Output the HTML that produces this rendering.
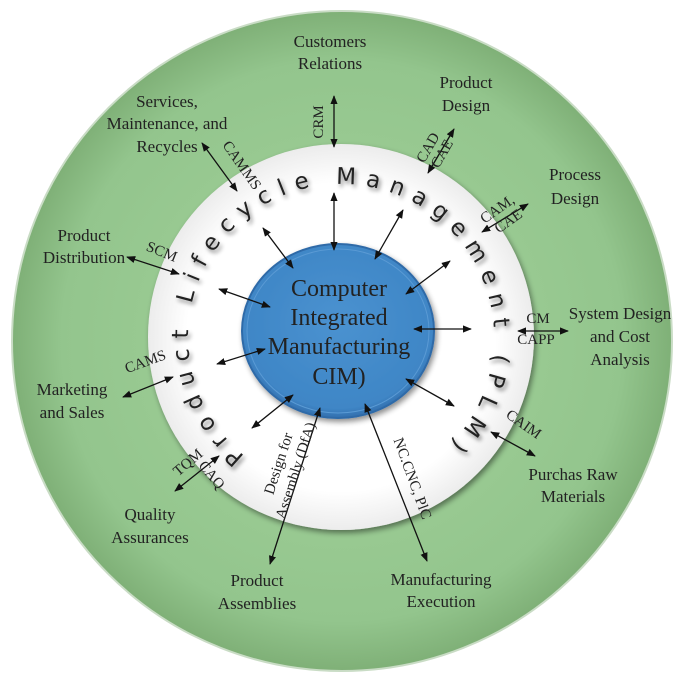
<!DOCTYPE html>
<html><head><meta charset="utf-8"><style>
html,body{margin:0;padding:0;background:#fff;width:685px;height:675px;overflow:hidden}
svg text{font-family:"Liberation Serif",serif;fill:#222}
</style></head><body>
<svg width="685" height="675" viewBox="0 0 685 675" xmlns="http://www.w3.org/2000/svg">
<defs>
<radialGradient id="g" cx="50%" cy="50%" r="50%">
<stop offset="0" stop-color="#a4d39b"/><stop offset="0.85" stop-color="#93c58d"/><stop offset="1" stop-color="#7fb077"/>
</radialGradient>
<radialGradient id="w" cx="50%" cy="50%" r="50%">
<stop offset="0.8" stop-color="#ffffff"/><stop offset="1" stop-color="#ececec"/>
</radialGradient>
<radialGradient id="b" cx="50%" cy="45%" r="55%">
<stop offset="0" stop-color="#4a92d0"/><stop offset="0.9" stop-color="#3f86c6"/><stop offset="1" stop-color="#336fae"/>
</radialGradient>
<filter id="sh" x="-20%" y="-20%" width="140%" height="140%"><feGaussianBlur in="SourceAlpha" stdDeviation="3"/><feOffset dx="2" dy="3"/><feComponentTransfer><feFuncA type="linear" slope="0.45"/></feComponentTransfer><feMerge><feMergeNode/><feMergeNode in="SourceGraphic"/></feMerge></filter>
<filter id="ts"><feGaussianBlur in="SourceAlpha" stdDeviation="2"/><feOffset dx="2" dy="3"/><feComponentTransfer><feFuncA type="linear" slope="0.5"/></feComponentTransfer><feMerge><feMergeNode/><feMergeNode in="SourceGraphic"/></feMerge></filter>
<marker id="a" viewBox="0 0 10 10" refX="9" refY="5" markerWidth="7" markerHeight="7" orient="auto-start-reverse"><path d="M0,1 L10,5 L0,9 z" fill="#111"/></marker>
<path id="arc" d="M244.7,455.9 A153,153 0 1 1 437.3,455.9"/>
</defs>
<circle cx="342" cy="341" r="330" fill="url(#g)" stroke="#c9dcc5" stroke-width="2"/>
<circle cx="341" cy="337" r="193" fill="url(#w)" filter="url(#sh)"/>
<ellipse cx="338" cy="331" rx="96" ry="87" fill="url(#b)" stroke="#2f6aa8" stroke-width="2" filter="url(#sh)"/>
<ellipse cx="338" cy="331" rx="91" ry="82" fill="none" stroke="#5a9ad4" stroke-width="1"/>
<text font-size="23" filter="url(#ts)" style="font-family:'DejaVu Sans','Liberation Sans',sans-serif"><textPath href="#arc" textLength="735" lengthAdjust="spacing">Product Lifecycle Management (PLM)</textPath></text>
<g font-size="24" text-anchor="middle">
<text x="339" y="296">Computer</text><text x="339" y="325">Integrated</text><text x="339" y="354">Manufacturing</text><text x="339" y="384">CIM)</text>
</g>
<g stroke="#111" stroke-width="1.3" marker-start="url(#a)" marker-end="url(#a)">
<line x1="334" y1="193" x2="334" y2="250"/>
<line x1="263" y1="228" x2="293" y2="268"/>
<line x1="403" y1="210" x2="375" y2="259"/>
<line x1="450" y1="261" x2="406" y2="294"/>
<line x1="414" y1="329" x2="471" y2="329"/>
<line x1="406" y1="379" x2="454" y2="406"/>
<line x1="365" y1="404" x2="427" y2="561"/>
<line x1="320" y1="408" x2="270" y2="564"/>
<line x1="293" y1="395" x2="252" y2="428"/>
<line x1="265" y1="349" x2="217" y2="364"/>
<line x1="219" y1="289" x2="270" y2="307"/>
<line x1="334" y1="96" x2="334" y2="147"/>
<line x1="454" y1="129" x2="428" y2="173"/>
<line x1="528" y1="204" x2="482" y2="232"/>
<line x1="518" y1="331" x2="568" y2="331"/>
<line x1="491" y1="432" x2="535" y2="456"/>
<line x1="219" y1="456" x2="175" y2="491"/>
<line x1="173" y1="377" x2="123" y2="397"/>
<line x1="127" y1="257" x2="179" y2="274"/>
<line x1="202" y1="143" x2="237" y2="191"/>
</g>
<g font-size="17" text-anchor="middle">
<text x="330" y="47">Customers</text><text x="330" y="69">Relations</text>
<text x="466" y="88">Product</text><text x="466" y="111">Design</text>
<text x="167" y="107">Services,</text><text x="167" y="129">Maintenance, and</text><text x="167" y="152">Recycles</text>
<text x="575" y="180">Process</text><text x="575" y="204">Design</text>
<text x="84" y="241">Product</text><text x="84" y="263">Distribution</text>
<text x="620" y="319">System Design</text><text x="620" y="342">and Cost</text><text x="620" y="365">Analysis</text>
<text x="72" y="395">Marketing</text><text x="72" y="418">and Sales</text>
<text x="573" y="480">Purchas Raw</text><text x="573" y="502">Materials</text>
<text x="150" y="520">Quality</text><text x="150" y="543">Assurances</text>
<text x="257" y="586">Product</text><text x="257" y="609">Assemblies</text>
<text x="441" y="585">Manufacturing</text><text x="441" y="607">Execution</text>
</g>
<g font-size="15" text-anchor="middle">
<text transform="translate(323,122) rotate(-90)">CRM</text>
<text transform="translate(432,150) rotate(-60)">CAD</text>
<text transform="translate(446,156) rotate(-60)">CAE</text>
<text transform="translate(500,213) rotate(-35)">CAM,</text>
<text transform="translate(511,225) rotate(-35)">CAE</text>
<text transform="translate(238,168) rotate(55)">CAMMS</text>
<text transform="translate(160,256) rotate(22)">SCM</text>
<text x="538" y="323">CM</text>
<text x="536" y="344">CAPP</text>
<text transform="translate(147,366) rotate(-20)">CAMS</text>
<text transform="translate(521,428) rotate(35)">CAIM</text>
<text transform="translate(191,466) rotate(-40)">TQM</text>
<text transform="translate(208,478) rotate(50)">CAQ</text>
<text transform="translate(283,465) rotate(-72)">Design for</text>
<text transform="translate(300,472) rotate(-72)">Assembly (DfA)</text>
<text transform="translate(408,480) rotate(70)">NC.CNC, PlC</text>
</g>
</svg>
</body></html>
